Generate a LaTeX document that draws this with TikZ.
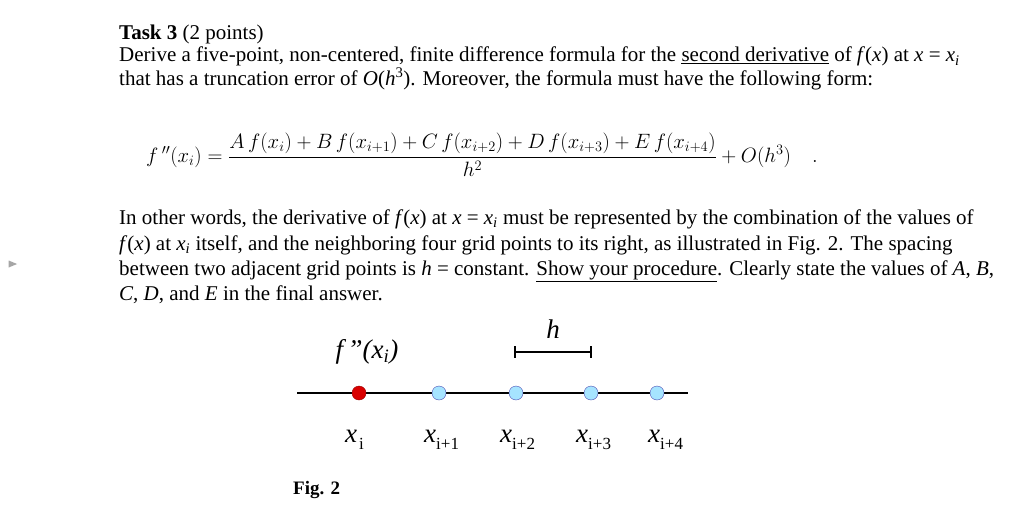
\documentclass[tikz,border=0pt]{standalone}
\usepackage{fontspec}
\setmainfont{Liberation Serif}
\usetikzlibrary{shapes.geometric}
\newcommand{\lowsub}[1]{\raisebox{-7pt}{\fontsize{17}{18}\selectfont\upshape #1}}
\begin{document}
\begin{tikzpicture}[x=1pt,y=-1pt,
  txt/.style={anchor=base west,inner sep=0pt,font=\fontsize{21}{23}\selectfont},
  lbl/.style={inner sep=0pt,font=\fontsize{27}{29}\selectfont\itshape},
  redpt/.style={circle,draw=red!60!black,fill=red!85!black,minimum size=14pt,inner sep=0pt},
  bluept/.style={circle,draw=blue!40!gray,fill=blue!30!cyan!35,minimum size=14pt,inner sep=0pt}]
\useasboundingbox (0,0) rectangle (1024,511);
\fill[white] (0,0) rectangle (1024,511);
\node[fill=gray!70,isosceles triangle,inner sep=0pt,minimum size=7pt] (tri) at (11,264) {};
\node[txt] (t1) at (119,40) {\textbf{Task 3} (2 points)};
\node[txt] (t2) at (119,62) {Derive a five-point, non-centered, finite difference formula for the \underline{second derivative} of \textit{f}(\textit{x}) at \textit{x} = \textit{x\textsubscript{i}}};
\node[txt] (t3) at (119,85) {that has a truncation error of \textit{O}(\textit{h}\textsuperscript{3}). Moreover, the formula must have the following form:};
\node[inner sep=0pt,anchor=west] (eq) at (146,155) {\fontsize{21}{25}\selectfont$\displaystyle f\,''(x_i)=\frac{A\,f(x_i)+B\,f(x_{i+1})+C\,f(x_{i+2})+D\,f(x_{i+3})+E\,f(x_{i+4})}{h^2}+O(h^3)\quad.$};
\node[txt] (p1) at (119,224) {In other words, the derivative of \textit{f}(\textit{x}) at \textit{x} = \textit{x\textsubscript{i}} must be represented by the combination of the values of};
\node[txt] (p2) at (119,250) {\textit{f}(\textit{x}) at \textit{x\textsubscript{i}} itself, and the neighboring four grid points to its right, as illustrated in Fig. 2. The spacing};
\node[txt] (p3) at (119,275) {between two adjacent grid points is \textit{h} = constant. \underline{Show your procedure}. Clearly state the values of \textit{A}, \textit{B},};
\node[txt] (p4) at (119,300) {\textit{C}, \textit{D}, and \textit{E} in the final answer.};
\coordinate (L) at (297,393); \coordinate (R) at (688,393);
\draw[line width=1.3pt] (L) -- (R);
\node[redpt] (d0) at (359,393) {};
\node[bluept] (d1) at (439,393) {};
\node[bluept] (d2) at (516,393) {};
\node[bluept] (d3) at (591,393) {};
\node[bluept] (d4) at (657,393) {};
\coordinate (h1) at (515,352); \coordinate (h2) at (591,352);
\draw[line width=1.5pt] (h1) -- (h2);
\draw[line width=1.5pt] (h1)++(0,-6) -- ++(0,12);
\draw[line width=1.5pt] (h2)++(0,-6) -- ++(0,12);
\node[lbl] (hl) at (553,329) {h};
\node[lbl] (fl) at (367,352) {f\,''(x\textsubscript{i})};
\node[lbl,anchor=base west] (x0) at (345,442) {x\lowsub{\kern2pt i}};
\node[lbl,anchor=base west] (x1) at (424,442) {x\lowsub{i+1}};
\node[lbl,anchor=base west] (x2) at (500,442) {x\lowsub{i+2}};
\node[lbl,anchor=base west] (x3) at (576,442) {x\lowsub{i+3}};
\node[lbl,anchor=base west] (x4) at (648,442) {x\lowsub{i+4}};
\node[txt,font=\fontsize{19}{21}\selectfont] (fig) at (293,494) {\textbf{Fig. 2}};
\end{tikzpicture}
\end{document}
